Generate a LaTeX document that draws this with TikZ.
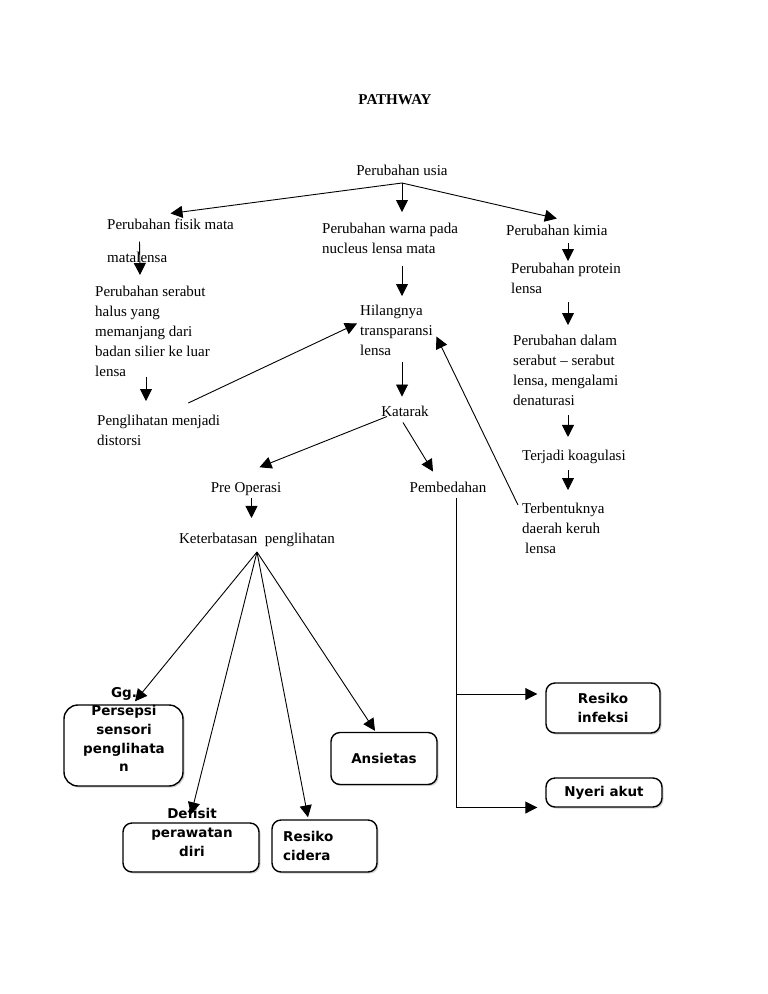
\documentclass[tikz,border=0pt]{standalone}
\usepackage{fontspec}
\setmainfont{Liberation Serif}
\newfontfamily\boxfont{DejaVu Sans}
\usetikzlibrary{arrows.meta,shadows,positioning}
\tikzstyle{line} = [draw, -{Triangle[width=12pt,length=12pt]}, line width=0.9pt]
\tikzstyle{plain} = [draw, line width=0.9pt]
\tikzstyle{txt} = [inner sep=0pt, align=left, font=\fontsize{15}{20}\selectfont]
\tikzstyle{box} = [draw, rectangle, rounded corners=9pt, line width=1.4pt, fill=white, drop shadow={shadow xshift=1.6pt, shadow yshift=-1.6pt, opacity=0.35}]
\tikzstyle{boxtxt} = [inner sep=0pt, align=center, font=\boxfont\bfseries\fontsize{13.5}{18.7}\selectfont]

\begin{document}
\begin{tikzpicture}[x=1pt,y=-1pt]
    \useasboundingbox (0,0) rectangle (768,994);
    \node [txt, font=\bfseries\fontsize{15}{18}\selectfont] (title) at (395,100) {PATHWAY};
    \node [txt] (usia) at (402,170) {Perubahan usia};
    \coordinate (split) at (402,183);
    \node [txt, anchor=west] (fisik) at (107,224) {Perubahan fisik mata};
    \node [txt, anchor=west] (matalensa) at (107,257) {matalensa};
    \node [txt, anchor=north west] (warna) at (322,223) {Perubahan warna pada\\nucleus lensa mata};
    \node [txt, anchor=west] (kimia) at (506,230) {Perubahan kimia};
    \coordinate (rcol) at (568,0);
    \node [txt, anchor=north west] (protein) at (511,263) {Perubahan protein\\lensa};
    \node [txt, anchor=north west] (dalam) at (513,335) {Perubahan dalam\\serabut -- serabut\\lensa, mengalami\\denaturasi};
    \node [txt, anchor=west] (koagulasi) at (522,457) {Terjadi koagulasi};
    \node [txt, anchor=north west] (keruh) at (522,503) {Terbentuknya\\daerah keruh\\\hspace{3pt}lensa};
    \node [txt, anchor=north west] (serabut) at (95,286) {Perubahan serabut\\halus yang\\memanjang dari\\badan silier ke luar\\lensa};
    \node [txt, anchor=north west] (distorsi) at (97,415) {Penglihatan menjadi\\distorsi};
    \node [txt, anchor=north west] (hilang) at (360,305) {Hilangnya\\transparansi\\lensa};
    \node [txt] (katarak) at (405,411) {Katarak};
    \node [txt] (preop) at (246,489) {Pre Operasi};
    \node [txt] (pembedahan) at (448,487) {Pembedahan};
    \node [txt] (keterbatasan) at (257,540) {Keterbatasan\ \ penglihatan};
    \coordinate (pcol) at ([xshift=5.5pt]preop.south);
    \coordinate (fan) at ([yshift=-5pt]keterbatasan.south);
    \coordinate (pb) at ([xshift=8pt,yshift=-6pt]pembedahan.south);
    \node [box, rounded corners=14pt, minimum width=119pt, minimum height=81pt] (gg) at (123.5,745.5) {};
    \node [boxtxt] (ggtext) at (124,729.5) {Gg.\\Persepsi\\sensori\\penglihata\\n};
    \node [box, minimum width=136pt, minimum height=49pt] (defisit) at (191,847.5) {};
    \node [boxtxt] (defisittext) at (192,832.5) {Defisit\\perawatan\\diri};
    \node [box, boxtxt, minimum width=105pt, minimum height=52pt] (cidera) at (324.5,846) {};
    \node [boxtxt, align=left, anchor=west] (ciderattext) at (283,846) {Resiko\\cidera};
    \node [box, boxtxt, minimum width=106pt, minimum height=52pt] (ansietas) at (384,758.5) {Ansietas};
    \node [box, boxtxt, minimum width=114pt, minimum height=50pt] (infeksi) at (603,708) {Resiko\\infeksi};
    \node [box, boxtxt, minimum width=116pt, minimum height=29pt] (nyeri) at (604,792.5) {Nyeri akut};
    \path [line] (split) -- ([yshift=5pt]fisik.north);
    \path [line, shorten >=11pt] (split) -- (split |- warna.north);
    \path [line] (split) -- ([yshift=6pt]kimia.north);
    \path [line] ([xshift=-31pt,yshift=-12pt]fisik.south) -- ([xshift=45pt,yshift=11pt]serabut.north west);
    \path [line, shorten <=12pt, shorten >=9pt] (split |- warna.south) -- (split |- hilang.north);
    \path [line, shorten <=8pt, shorten >=2pt] (rcol |- kimia.south) -- (rcol |- protein.north);
    \path [line, shorten <=8.5pt, shorten >=10pt] (rcol |- protein.south) -- (rcol |- dalam.north);
    \path [line, shorten <=9.5pt, shorten >=13pt] (rcol |- dalam.south) -- (rcol |- koagulasi.north);
    \path [line, shorten <=6pt, shorten >=13pt] (rcol |- koagulasi.south) -- (rcol |- keruh.north);
    \path [line] ([xshift=-4pt,yshift=-2pt]keruh.north west) -- ([xshift=3.5pt,yshift=-6pt]hilang.east);
    \path [line, shorten >=14pt] ([xshift=51pt]serabut.south west) -- ([xshift=49pt]distorsi.north west);
    \path [line] ([xshift=-32pt,yshift=12pt]distorsi.north east) -- ([xshift=-3pt,yshift=7pt]hilang.west);
    \path [line, shorten <=6.5pt, shorten >=9pt] (split |- hilang.south) -- (split |- katarak.north);
    \path [line] ([xshift=6pt]katarak.south west) -- ([xshift=13.5pt,yshift=15pt]preop.north);
    \path [line] ([xshift=-2pt,yshift=-6pt]katarak.south) -- ([xshift=-15pt,yshift=10pt]pembedahan.north);
    \path [line, shorten <=2pt, shorten >=15pt] (pcol) -- (pcol |- keterbatasan.north);
    \path [line] (fan) -- ([xshift=11.5pt,yshift=3pt]gg.north);
    \path [line] (fan) -- ([yshift=8pt]defisit.north);
    \path [line] (fan) -- ([xshift=-16.5pt,yshift=2pt]cidera.north);
    \path [line] (fan) -- ([xshift=-9pt,yshift=1pt]ansietas.north);
    \path [line] (pb) |- ([xshift=-8pt,yshift=14pt]infeksi.west);
    \path [line] (pb) |- ([xshift=-8pt,yshift=-15pt]nyeri.west);
\end{tikzpicture}
\end{document}
